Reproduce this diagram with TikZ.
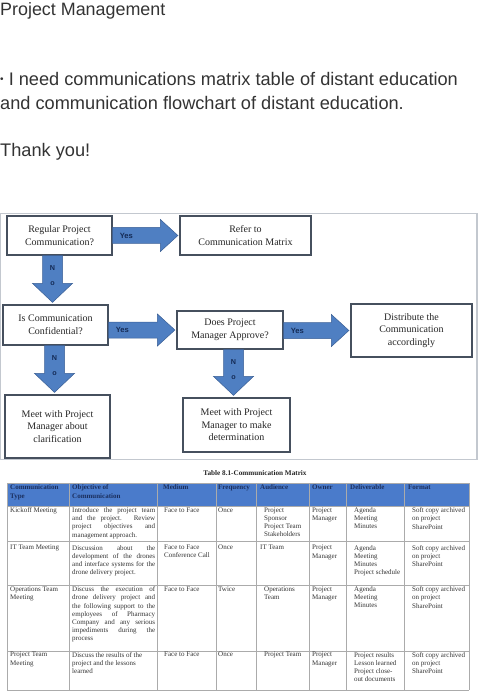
\documentclass[tikz,border=0pt]{standalone}
\usepackage{fontspec}
\setmainfont{Liberation Serif}
\newfontfamily\uifont{Liberation Sans}
\usepackage{xcolor}
\usetikzlibrary{calc}
\definecolor{arrowblue}{HTML}{4F7FC2}
\definecolor{arrowedge}{HTML}{3A5F95}
\definecolor{labelnavy}{HTML}{142A55}
\definecolor{boxedge}{HTML}{46505E}
\definecolor{framegray}{HTML}{C3C8CF}
\definecolor{headblue}{HTML}{4A7BCB}
\definecolor{headtext}{HTML}{1B2F5E}
\definecolor{gridgray}{HTML}{ABABAB}
\definecolor{inkgray}{HTML}{333333}

\tikzset{
  uitext/.style={anchor=base west, inner sep=0pt, text=inkgray, font=\uifont\fontsize{18.2}{24}\selectfont},
  flowbox/.style={draw=boxedge, line width=1.2pt, fill=white, align=center, inner sep=0pt, text=black!85, font=\fontsize{10}{12.5}\selectfont},
  blockarrow/.style={fill=arrowblue, draw=arrowedge, line width=0.5pt},
  yeslabel/.style={inner sep=0pt, text=labelnavy, font=\uifont\bfseries\fontsize{7.6}{9}\selectfont},
  nolabel/.style={inner sep=0pt, align=center, text=labelnavy, font=\uifont\bfseries\fontsize{7.2}{15}\selectfont},
  gridline/.style={draw=gridgray, line width=0.8pt},
  headcell/.style={anchor=north west, inner sep=0pt, align=left, text=headtext, font=\bfseries\fontsize{7}{8.5}\selectfont},
  cell/.style={anchor=north west, inner sep=0pt, align=left, text=inkgray, font=\fontsize{7}{8.2}\selectfont},
  objcell/.style={align=justify, text width=83pt}
}

% block arrow pointing right, from node #1 to node #2
\newcommand{\yesarrow}[2]{%
  \path[blockarrow] let \p1=(#1.east), \p2=(#2.west) in
    (\x1,\y2+8pt) -- (\x2-19pt,\y2+8pt) -- (\x2-19pt,\y2+16pt) -- (\x2-1.5pt,\y2)
    -- (\x2-19pt,\y2-16pt) -- (\x2-19pt,\y2-8pt) -- (\x1,\y2-8pt) -- cycle;
  \path let \p1=(#1.east), \p2=(#2.west) in
    node[yeslabel, anchor=west] (#1-yes) at (\x1+7pt,\y2) {Yes};
}
% block arrow pointing down, from node #1 to node #2
\newcommand{\noarrow}[2]{%
  \path[blockarrow] let \p1=(#1.south), \p2=(#2.north) in
    (\x2-13pt,\y1) -- (\x2-13pt,\y2+21pt) -- (\x2-23pt,\y2+21pt) -- (\x2-3pt,\y2+2pt)
    -- (\x2+17pt,\y2+21pt) -- (\x2+7pt,\y2+21pt) -- (\x2+7pt,\y1) -- cycle;
  \path let \p1=(#1.south), \p2=(#2.north) in
    node[nolabel, anchor=north] (#1-no) at (\x2-3pt,\y1-10pt) {N\\o};
}

\begin{document}
\begin{tikzpicture}[x=1pt, y=-1pt]
\useasboundingbox (0,0) rectangle (479,700);

% question text
\node[uitext, font=\uifont\fontsize{17.9}{24}\selectfont] (title) at (0,16) {Project Management};
\node[uitext] (ask1) at (0,86) {\raisebox{3pt}{\fontsize{10}{10}\selectfont •} I need communications matrix table of distant education};
\node[uitext] (ask2) at (0,110) {and communication flowchart of distant education.};
\node[uitext] (thanks) at (0,157) {Thank you!};

% flowchart
\draw[framegray, line width=1.2pt] (0.6,213.6) rectangle (477,459.5);

\node[flowbox, minimum width=105pt, minimum height=39pt] (regular) at (59.5,235.5) {Regular Project\\Communication?};
\node[flowbox, minimum width=131pt, minimum height=39pt] (matrix) at (245.5,235.5) {Refer to\\Communication Matrix};
\node[flowbox, minimum width=105pt, minimum height=40pt] (confid) at (55.5,325) {Is Communication\\Confidential?};
\node[flowbox, minimum width=106pt, minimum height=38pt] (approve) at (230,330) {Does Project\\Manager Approve?};
\node[flowbox, minimum width=121pt, minimum height=53pt] (distrib) at (411.5,330.5) {Distribute the\\Communication\\accordingly};
\node[flowbox, minimum width=105pt, minimum height=63pt] (clarify) at (57.5,426.5) {Meet with Project\\Manager about\\clarification};
\node[flowbox, minimum width=107pt, minimum height=54pt] (decide) at (236.5,425) {Meet with Project\\Manager to make\\determination};

\yesarrow{regular}{matrix}
\yesarrow{confid}{approve}
\yesarrow{approve}{distrib}
\noarrow{regular}{confid}
\noarrow{confid}{clarify}
\noarrow{approve}{decide}

% communication matrix
\node[anchor=base, inner sep=0pt, text=black!85, font=\bfseries\fontsize{7.2}{8}\selectfont] (caption) at (255,475) {Table 8.1-Communication Matrix};

\fill[headblue] (7,483) rectangle (469,506);
\foreach \gx in {7,69,157,216,256,309,346,404,469}
  \draw[gridline] (\gx,483) -- (\gx,690);
\foreach \gy in {483,506,541,585,651,690}
  \draw[gridline] (7,\gy) -- (469,\gy);

\node[headcell] (h1) at (10,484.5) {Communication\\Type};
\node[headcell] (h2) at (72,484.5) {Objective of\\Communication};
\node[headcell] (h3) at (163,484.5) {Medium};
\node[headcell] (h4) at (218,484.5) {Frequency};
\node[headcell] (h5) at (260,484.5) {Audience};
\node[headcell] (h6) at (312,484.5) {Owner};
\node[headcell] (h7) at (350,484.5) {Deliverable};
\node[headcell] (h8) at (408,484.5) {Format};

% kickoff meeting
\node[cell] (k1) at (10,507.5) {Kickoff Meeting};
\node[cell, objcell] (k2) at (72,507.5) {Introduce the project team\linebreak and the project. Review\linebreak project objectives and\linebreak management approach.};
\node[cell] (k3) at (164,507.5) {Face to Face};
\node[cell] (k4) at (218,507.5) {Once};
\node[cell] (k5) at (264,507.5) {Project\\Sponsor\\Project Team\\Stakeholders};
\node[cell] (k6) at (312,507.5) {Project\\Manager};
\node[cell] (k7) at (354,507.5) {Agenda\\Meeting\\Minutes};
\node[cell] (k8) at (412,507.5) {Soft copy archived\\on project\\SharePoint};

% IT team meeting
\node[cell] (t1) at (10,545) {IT Team Meeting};
\node[cell, objcell] (t2) at (72,545) {Discussion about the\linebreak development of the drones\linebreak and interface systems for the\linebreak drone delivery project.};
\node[cell] (t3) at (164,545) {Face to Face\\Conference Call};
\node[cell] (t4) at (218,545) {Once};
\node[cell] (t5) at (260,545) {IT Team};
\node[cell] (t6) at (312,545) {Project\\Manager};
\node[cell] (t7) at (354,545) {Agenda\\Meeting\\Minutes\\Project schedule};
\node[cell] (t8) at (412,545) {Soft copy archived\\on project\\SharePoint};

% operations team meeting
\node[cell] (o1) at (10,586.5) {Operations Team\\Meeting};
\node[cell, objcell] (o2) at (72,586.5) {Discuss the execution of\linebreak drone delivery project and\linebreak the following support to the\linebreak employees of Pharmacy\linebreak Company and any serious\linebreak impediments during the\linebreak process};
\node[cell] (o3) at (164,586.5) {Face to Face};
\node[cell] (o4) at (218,586.5) {Twice};
\node[cell] (o5) at (264,586.5) {Operations\\Team};
\node[cell] (o6) at (312,586.5) {Project\\Manager};
\node[cell] (o7) at (354,586.5) {Agenda\\Meeting\\Minutes};
\node[cell] (o8) at (412,586.5) {Soft copy archived\\on project\\SharePoint};

% project team meeting
\node[cell] (p1) at (10,652) {Project Team\\Meeting};
\node[cell] (p2) at (72,652) {Discuss the results of the\\project and the lessons\\learned};
\node[cell] (p3) at (164,652) {Face to Face};
\node[cell] (p4) at (218,652) {Once};
\node[cell] (p5) at (264,652) {Project Team};
\node[cell] (p6) at (312,652) {Project\\Manager};
\node[cell] (p7) at (354,652) {Project results\\Lesson learned\\Project close-\\out documents};
\node[cell] (p8) at (412,652) {Soft copy archived\\on project\\SharePoint};
\end{tikzpicture}
\end{document}
